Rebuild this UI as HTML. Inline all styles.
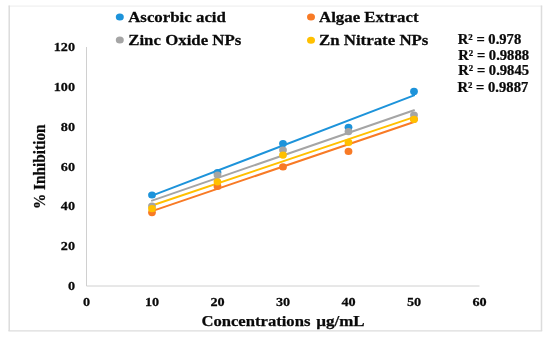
<!DOCTYPE html>
<html><head><meta charset="utf-8"><title>Chart</title>
<style>
html,body{margin:0;padding:0;background:#fff;}
body{width:550px;height:339px;overflow:hidden;}
svg{display:block;filter:blur(0.35px)}
text{font-family:"Liberation Serif","Times New Roman",serif;font-weight:bold;fill:#0a0a0a;stroke:#0a0a0a;stroke-width:0.25px;}
.ax{font-size:13.3px}
.lg{font-size:15.6px}
.r2{font-size:13.6px}
.ti{font-size:15.3px}
</style></head><body>
<svg width="550" height="339" viewBox="0 0 550 339">
<rect x="0" y="0" width="550" height="339" fill="#ffffff"/>
<line x1="8.4" y1="6.1" x2="542.2" y2="6.1" stroke="#f0f0f0" stroke-width="1.4"/>
<line x1="9.2" y1="5.6" x2="9.2" y2="331" stroke="#dcdcdc" stroke-width="1.5"/>
<line x1="541.5" y1="5.6" x2="541.5" y2="331" stroke="#dcdcdc" stroke-width="1.5"/>
<line x1="8.4" y1="330.9" x2="542.2" y2="330.9" stroke="#dcdcdc" stroke-width="1.4"/>
<line x1="86.5" y1="47" x2="86.5" y2="286" stroke="#d0d0d0" stroke-width="1"/>
<line x1="86.5" y1="286" x2="479.5" y2="286" stroke="#d0d0d0" stroke-width="1"/>
<line x1="152.0" y1="195.6" x2="414.0" y2="95.4" stroke="#1d93da" stroke-width="2" stroke-linecap="round"/>
<line x1="152.0" y1="211.1" x2="414.0" y2="122.0" stroke="#f87a25" stroke-width="2" stroke-linecap="round"/>
<line x1="152.0" y1="200.6" x2="414.0" y2="110.2" stroke="#a5a5a5" stroke-width="2" stroke-linecap="round"/>
<line x1="152.0" y1="205.5" x2="414.0" y2="117.1" stroke="#ffc000" stroke-width="2" stroke-linecap="round"/>
<ellipse cx="152.0" cy="195.0" rx="3.9" ry="3.6" fill="#1d93da"/>
<ellipse cx="217.5" cy="172.5" rx="3.9" ry="3.6" fill="#1d93da"/>
<ellipse cx="283.0" cy="143.6" rx="3.9" ry="3.6" fill="#1d93da"/>
<ellipse cx="348.5" cy="127.3" rx="3.9" ry="3.6" fill="#1d93da"/>
<ellipse cx="414.0" cy="91.4" rx="3.9" ry="3.6" fill="#1d93da"/>
<ellipse cx="152.0" cy="212.6" rx="3.9" ry="3.6" fill="#f87a25"/>
<ellipse cx="217.5" cy="186.4" rx="3.9" ry="3.6" fill="#f87a25"/>
<ellipse cx="283.0" cy="166.9" rx="3.9" ry="3.6" fill="#f87a25"/>
<ellipse cx="348.5" cy="151.4" rx="3.9" ry="3.6" fill="#f87a25"/>
<ellipse cx="414.0" cy="119.3" rx="3.9" ry="3.6" fill="#f87a25"/>
<ellipse cx="152.0" cy="206.1" rx="3.9" ry="3.6" fill="#a5a5a5"/>
<ellipse cx="217.5" cy="175.1" rx="3.9" ry="3.6" fill="#a5a5a5"/>
<ellipse cx="283.0" cy="150.0" rx="3.9" ry="3.6" fill="#a5a5a5"/>
<ellipse cx="348.5" cy="131.6" rx="3.9" ry="3.6" fill="#a5a5a5"/>
<ellipse cx="414.0" cy="115.1" rx="3.9" ry="3.6" fill="#a5a5a5"/>
<ellipse cx="152.0" cy="208.7" rx="3.9" ry="3.6" fill="#ffc000"/>
<ellipse cx="217.5" cy="181.8" rx="3.9" ry="3.6" fill="#ffc000"/>
<ellipse cx="283.0" cy="155.1" rx="3.9" ry="3.6" fill="#ffc000"/>
<ellipse cx="348.5" cy="142.4" rx="3.9" ry="3.6" fill="#ffc000"/>
<ellipse cx="414.0" cy="119.3" rx="3.9" ry="3.6" fill="#ffc000"/>
<text transform="translate(75,290.1) scale(1.07,1)" text-anchor="end" class="ax">0</text>
<text transform="translate(75,250.3) scale(1.07,1)" text-anchor="end" class="ax">20</text>
<text transform="translate(75,210.4) scale(1.07,1)" text-anchor="end" class="ax">40</text>
<text transform="translate(75,170.6) scale(1.07,1)" text-anchor="end" class="ax">60</text>
<text transform="translate(75,130.8) scale(1.07,1)" text-anchor="end" class="ax">80</text>
<text transform="translate(75,90.9) scale(1.07,1)" text-anchor="end" class="ax">100</text>
<text transform="translate(75,51.1) scale(1.07,1)" text-anchor="end" class="ax">120</text>
<text transform="translate(86.5,306.3) scale(1.07,1)" text-anchor="middle" class="ax">0</text>
<text transform="translate(152.0,306.3) scale(1.07,1)" text-anchor="middle" class="ax">10</text>
<text transform="translate(217.5,306.3) scale(1.07,1)" text-anchor="middle" class="ax">20</text>
<text transform="translate(283.0,306.3) scale(1.07,1)" text-anchor="middle" class="ax">30</text>
<text transform="translate(348.5,306.3) scale(1.07,1)" text-anchor="middle" class="ax">40</text>
<text transform="translate(414.0,306.3) scale(1.07,1)" text-anchor="middle" class="ax">50</text>
<text transform="translate(479.5,306.3) scale(1.07,1)" text-anchor="middle" class="ax">60</text>
<ellipse cx="119.8" cy="16.9" rx="4" ry="3.5" fill="#1d93da"/>
<text transform="translate(128.2,22) scale(1.08,1)" class="lg">Ascorbic acid</text>
<ellipse cx="311" cy="16.9" rx="4" ry="3.5" fill="#f87a25"/>
<text transform="translate(319,22) scale(1.08,1)" class="lg">Algae Extract</text>
<ellipse cx="119.8" cy="40" rx="4" ry="3.5" fill="#a5a5a5"/>
<text transform="translate(128.2,44.6) scale(1.08,1)" class="lg">Zinc Oxide NPs</text>
<ellipse cx="311" cy="40.2" rx="4" ry="3.5" fill="#ffc000"/>
<text transform="translate(319,44.6) scale(1.08,1)" class="lg">Zn Nitrate NPs</text>
<text transform="translate(457.8,43.7) scale(1.075,1)" class="r2">R² = 0.978</text>
<text transform="translate(458.3,59.6) scale(1.075,1)" class="r2">R² = 0.9888</text>
<text transform="translate(458.3,74.8) scale(1.075,1)" class="r2">R² = 0.9845</text>
<text transform="translate(457.5,92.2) scale(1.075,1)" class="r2">R² = 0.9887</text>
<text x="201.4" y="325.8" class="ti"><tspan textLength="109" lengthAdjust="spacingAndGlyphs">Concentrations</tspan> <tspan x="316.2" textLength="48.5" lengthAdjust="spacingAndGlyphs">µg/mL</tspan></text>
<text transform="translate(44.8,209) scale(1.12,1) rotate(-90)" style="font-size:15.3px">% Inhibition</text>
</svg>
</body></html>
